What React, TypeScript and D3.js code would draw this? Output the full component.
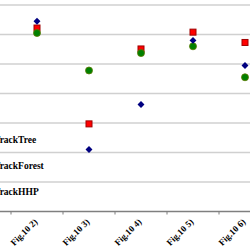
import { useEffect, useRef } from "react"
import * as d3 from "d3"

const categories = ["Fig.10 2)", "Fig.10 3)", "Fig.10 4)", "Fig.10 5)", "Fig.10 6)"]
const trackTree = [6.22, 2.97, 5.51, 6.08, 5.73]
const trackForest = [6.05, 4.78, 5.37, 5.6, 4.55]
const trackHHP = [6.45, 2.1, 3.63, 5.8, 4.95]
const yTicks = [0, 1, 2, 3, 4, 5, 6, 7]
const legendNames = ["TrackTree", "TrackForest", "TrackHHP"]

export default function App() {
  const svgRef = useRef<SVGSVGElement>(null)

  useEffect(() => {
    if (!svgRef.current) return
    const svg = d3.select(svgRef.current)
    svg.selectAll("*").remove()

    const x = d3.scaleBand<string>().domain(categories).range([11, 271])
    const y = d3.scaleLinear().domain([0, 7]).range([211.5, 5])

    // gridlines
    svg
      .append("g")
      .selectAll("line")
      .data(yTicks.filter((d) => d > 0))
      .enter()
      .append("line")
      .attr("x1", 0)
      .attr("x2", 250)
      .attr("y1", (d) => y(d))
      .attr("y2", (d) => y(d))
      .style("stroke", "#d0d0d0")
      .style("stroke-width", 1.5)

    // x axis
    svg
      .append("line")
      .attr("x1", 0)
      .attr("x2", 250)
      .attr("y1", y(0))
      .attr("y2", y(0))
      .style("stroke", "#7f7f7f")
      .style("stroke-width", 1.5)

    svg
      .append("g")
      .selectAll("line")
      .data(categories)
      .enter()
      .append("line")
      .attr("x1", (d) => x(d)!)
      .attr("x2", (d) => x(d)!)
      .attr("y1", y(0))
      .attr("y2", y(0) + 3)
      .style("stroke", "#7f7f7f")
      .style("stroke-width", 1)

    svg
      .append("g")
      .selectAll("text")
      .data(categories)
      .enter()
      .append("text")
      .attr("transform", (d) => `translate(${x(d)! + x.bandwidth() / 2 + 1},${y(0) + 11}) rotate(-45)`)
      .attr("text-anchor", "end")
      .style("font-family", "'Liberation Serif', serif")
      .style("font-size", "9px")
      .style("font-weight", "bold")
      .style("fill", "#000")
      .text((d) => d)

    const cx = (d: string) => x(d)! + x.bandwidth() / 2

    // TrackTree squares
    svg
      .append("g")
      .selectAll("rect")
      .data(trackTree)
      .enter()
      .append("rect")
      .attr("x", (d, i) => cx(categories[i]) - 3)
      .attr("y", (d) => y(d) - 3)
      .attr("width", 6)
      .attr("height", 6)
      .style("fill", "#ff0000")
      .style("stroke", "#a00000")
      .style("stroke-width", 1)

    // TrackForest circles
    svg
      .append("g")
      .selectAll("circle")
      .data(trackForest)
      .enter()
      .append("circle")
      .attr("cx", (d, i) => cx(categories[i]))
      .attr("cy", (d) => y(d))
      .attr("r", 3.5)
      .style("fill", "#008000")
      .style("stroke", "#5a7a00")
      .style("stroke-width", 0.8)

    // TrackHHP diamonds (square turned 45deg)
    const diamond = d3.symbol().type(d3.symbolSquare).size(24)
    svg
      .append("g")
      .selectAll("path")
      .data(trackHHP)
      .enter()
      .append("path")
      .attr("transform", (d, i) => `translate(${cx(categories[i])},${y(d)}) rotate(45)`)
      .attr("d", diamond)
      .style("fill", "#000080")

    // legend (cut off at the left edge, as in the source)
    svg
      .append("g")
      .selectAll("text")
      .data(legendNames)
      .enter()
      .append("text")
      .attr("x", -6)
      .attr("y", (d, i) => 143 + i * 26)
      .style("font-family", "'Liberation Serif', serif")
      .style("font-size", "9.5px")
      .style("font-weight", "bold")
      .style("fill", "#000")
      .text((d) => d)
  }, [])

  return (
    <svg
      ref={svgRef}
      width={250}
      height={250}
      style={{ position: "absolute", left: 0, top: 0, background: "#fff" }}
    />
  )
}
